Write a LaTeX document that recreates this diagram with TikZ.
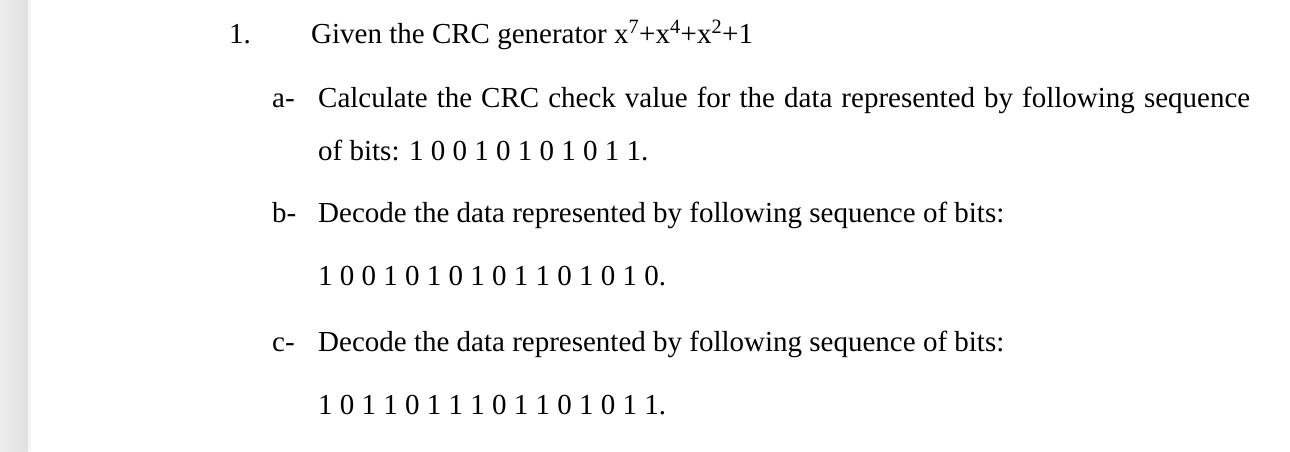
\documentclass[tikz,border=0pt]{standalone}
\usepackage{fontspec}
\setmainfont{Liberation Serif}
\begin{document}
\begin{tikzpicture}[x=1pt,y=-1pt,
  txt/.style={anchor=base west,inner sep=0pt,font=\fontsize{29}{33}\selectfont}]
\useasboundingbox (0,0) rectangle (1290,451);
\fill[left color=black!7,right color=black!12] (0,0) rectangle (28,451);
\fill[black!4] (28,0) rectangle (31,451);
\node[txt] (n1) at (229,43) {1.};
\node[txt] (g) at (311,43) {Given the CRC generator x\textsuperscript{7}+x\textsuperscript{4}+x\textsuperscript{2}+1};
\node[txt] (a) at (272,107) {a-};
\node[txt] (at) at (318,107) {\makebox[932pt][s]{Calculate the CRC check value for the data represented by following sequence}};
\node[txt] (a2) at (318,160) {of bits: 1 0 0 1 0 1 0 1 0 1 1.};
\node[txt] (b) at (272,222) {b-};
\node[txt] (bt) at (318,222) {Decode the data represented by following sequence of bits:};
\node[txt] (b2) at (318,285) {1 0 0 1 0 1 0 1 0 1 1 0 1 0 1 0.};
\node[txt] (c) at (272,351) {c-};
\node[txt] (ct) at (318,351) {Decode the data represented by following sequence of bits:};
\node[txt] (c2) at (318,414) {1 0 1 1 0 1 1 1 0 1 1 0 1 0 1 1.};
\end{tikzpicture}
\end{document}
